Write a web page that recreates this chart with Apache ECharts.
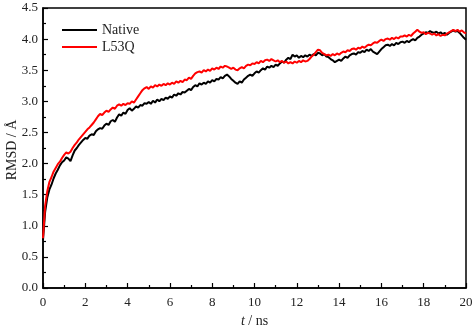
<!DOCTYPE html>
<html><head><meta charset="utf-8">
<script src="https://cdn.jsdelivr.net/npm/echarts@6/dist/echarts.min.js"></script>
<style>html,body{margin:0;padding:0;background:#fff}#c{width:474px;height:330px}</style>
</head><body><div id="c"></div>
<script>
const step = 0.1;
const native = [0.77,1.22,1.45,1.58,1.66,1.76,1.84,1.90,1.97,2.02,
2.05,2.10,2.08,2.04,2.13,2.21,2.25,2.30,2.34,2.38,
2.41,2.40,2.45,2.47,2.46,2.52,2.55,2.57,2.56,2.61,
2.64,2.62,2.68,2.70,2.67,2.74,2.79,2.77,2.82,2.80,
2.86,2.89,2.85,2.88,2.92,2.90,2.94,2.93,2.97,2.96,
2.99,2.96,3.01,2.98,3.03,3.00,3.04,3.02,3.06,3.04,
3.08,3.06,3.11,3.09,3.13,3.11,3.15,3.14,3.17,3.20,
3.18,3.23,3.26,3.24,3.29,3.27,3.30,3.28,3.32,3.30,
3.34,3.32,3.36,3.35,3.39,3.37,3.41,3.43,3.40,3.36,
3.33,3.30,3.28,3.32,3.30,3.35,3.38,3.41,3.43,3.41,
3.45,3.48,3.46,3.50,3.53,3.51,3.56,3.54,3.57,3.55,
3.59,3.57,3.61,3.64,3.62,3.67,3.70,3.68,3.75,3.72,
3.74,3.70,3.73,3.71,3.74,3.72,3.75,3.73,3.76,3.74,
3.78,3.77,3.74,3.76,3.72,3.71,3.68,3.66,3.63,3.65,
3.67,3.65,3.69,3.72,3.70,3.74,3.76,3.77,3.75,3.79,
3.78,3.81,3.79,3.83,3.81,3.84,3.80,3.78,3.76,3.80,
3.84,3.87,3.90,3.91,3.89,3.92,3.90,3.94,3.92,3.95,
3.96,3.94,3.97,3.95,3.98,4.00,3.98,4.02,4.04,4.07,
4.09,4.11,4.10,4.13,4.11,4.10,4.12,4.09,4.11,4.08,
4.10,4.07,4.10,4.12,4.14,4.12,4.13,4.10,4.06,4.02,
3.99];
const l53q = [0.80,1.32,1.55,1.70,1.78,1.87,1.93,1.99,2.03,2.09,
2.14,2.18,2.16,2.19,2.25,2.30,2.34,2.39,2.43,2.47,
2.51,2.55,2.58,2.62,2.66,2.71,2.76,2.80,2.78,2.82,
2.85,2.83,2.87,2.90,2.88,2.93,2.95,2.93,2.96,2.94,
2.97,2.96,3.00,2.98,3.03,3.08,3.13,3.18,3.21,3.23,
3.20,3.24,3.22,3.26,3.24,3.27,3.25,3.28,3.26,3.29,
3.27,3.30,3.28,3.32,3.30,3.33,3.31,3.35,3.34,3.38,
3.36,3.41,3.45,3.47,3.48,3.46,3.50,3.48,3.51,3.49,
3.53,3.51,3.54,3.52,3.56,3.54,3.57,3.56,3.54,3.52,
3.54,3.51,3.50,3.53,3.55,3.53,3.57,3.59,3.58,3.61,
3.60,3.63,3.61,3.65,3.63,3.66,3.67,3.65,3.68,3.66,
3.64,3.66,3.63,3.65,3.62,3.64,3.61,3.63,3.61,3.64,
3.62,3.65,3.63,3.66,3.64,3.65,3.68,3.72,3.75,3.79,
3.83,3.82,3.78,3.76,3.74,3.75,3.73,3.76,3.74,3.77,
3.75,3.78,3.80,3.79,3.82,3.81,3.84,3.85,3.83,3.86,
3.85,3.88,3.86,3.89,3.91,3.90,3.93,3.95,3.94,3.97,
3.99,3.97,4.00,4.01,3.99,4.02,4.00,4.03,4.01,4.04,
4.04,4.06,4.04,4.07,4.05,4.09,4.12,4.15,4.12,4.10,
4.11,4.08,4.10,4.09,4.07,4.09,4.06,4.08,4.05,4.07,
4.06,4.09,4.11,4.13,4.15,4.13,4.15,4.12,4.14,4.11,
4.09];
const seriesNames = ['Native','L53Q'];
const colors = ['#000000','#ff0000'];
const yAxisTitle = 'RMSD / Å';

const toPairs = arr => arr.map((v,i)=>[+(i*step).toFixed(2), v]);
const font = 'Liberation Serif, Times New Roman, serif';
const chart = echarts.init(document.getElementById('c'), null, {renderer:'canvas'});
const axisCommon = {
  axisLine:{show:true,onZero:false,lineStyle:{color:'#000',width:1.5}},
  axisTick:{show:true,inside:true,length:5,lineStyle:{color:'#000',width:1.2}},
  minorTick:{show:true,splitNumber:2,length:3,lineStyle:{color:'#000',width:1.2}},
  splitLine:{show:false},
  axisLabel:{color:'#222',fontFamily:font,fontSize:13}
};
chart.setOption({
  animation:false,
  backgroundColor:'#fff',
  grid:{left:43,right:8,top:8,bottom:42,containLabel:false,outerBoundsMode:'none',
    show:true,borderColor:'#000',borderWidth:1.5,backgroundColor:'transparent'},
  legend:{
    left:62,top:23,padding:0,orient:'vertical',itemWidth:35,itemHeight:2,itemGap:3,icon:'rect',
    data:seriesNames,
    textStyle:{fontFamily:font,fontSize:14,color:'#222'}
  },
  graphic:[{
    type:'text',x:12,y:150,rotation:Math.PI/2,
    style:{text:yAxisTitle,fontFamily:font,fontSize:14,fill:'#222',align:'center',verticalAlign:'middle'}
  }],
  xAxis:Object.assign({},axisCommon,{
    type:'value',min:0,max:20,interval:2,
    axisLabel:Object.assign({},axisCommon.axisLabel,{margin:8}),
    name:'{i|t} / ns',nameLocation:'middle',nameGap:24,
    nameTextStyle:{fontFamily:font,fontSize:14,color:'#222',verticalAlign:'top',
      rich:{i:{fontFamily:font,fontSize:14,fontStyle:'italic',color:'#222'}}}
  }),
  yAxis:Object.assign({},axisCommon,{
    type:'value',min:0,max:4.5,interval:0.5,
    axisLabel:Object.assign({},axisCommon.axisLabel,{margin:5,formatter:v=>v.toFixed(1)})
  }),
  series:[
    {name:seriesNames[0],type:'line',data:toPairs(native),symbol:'none',showSymbol:false,
     lineStyle:{color:colors[0],width:2},itemStyle:{color:colors[0]}},
    {name:seriesNames[1],type:'line',data:toPairs(l53q),symbol:'none',showSymbol:false,
     lineStyle:{color:colors[1],width:2},itemStyle:{color:colors[1]}}
  ]
});
</script></body></html>
